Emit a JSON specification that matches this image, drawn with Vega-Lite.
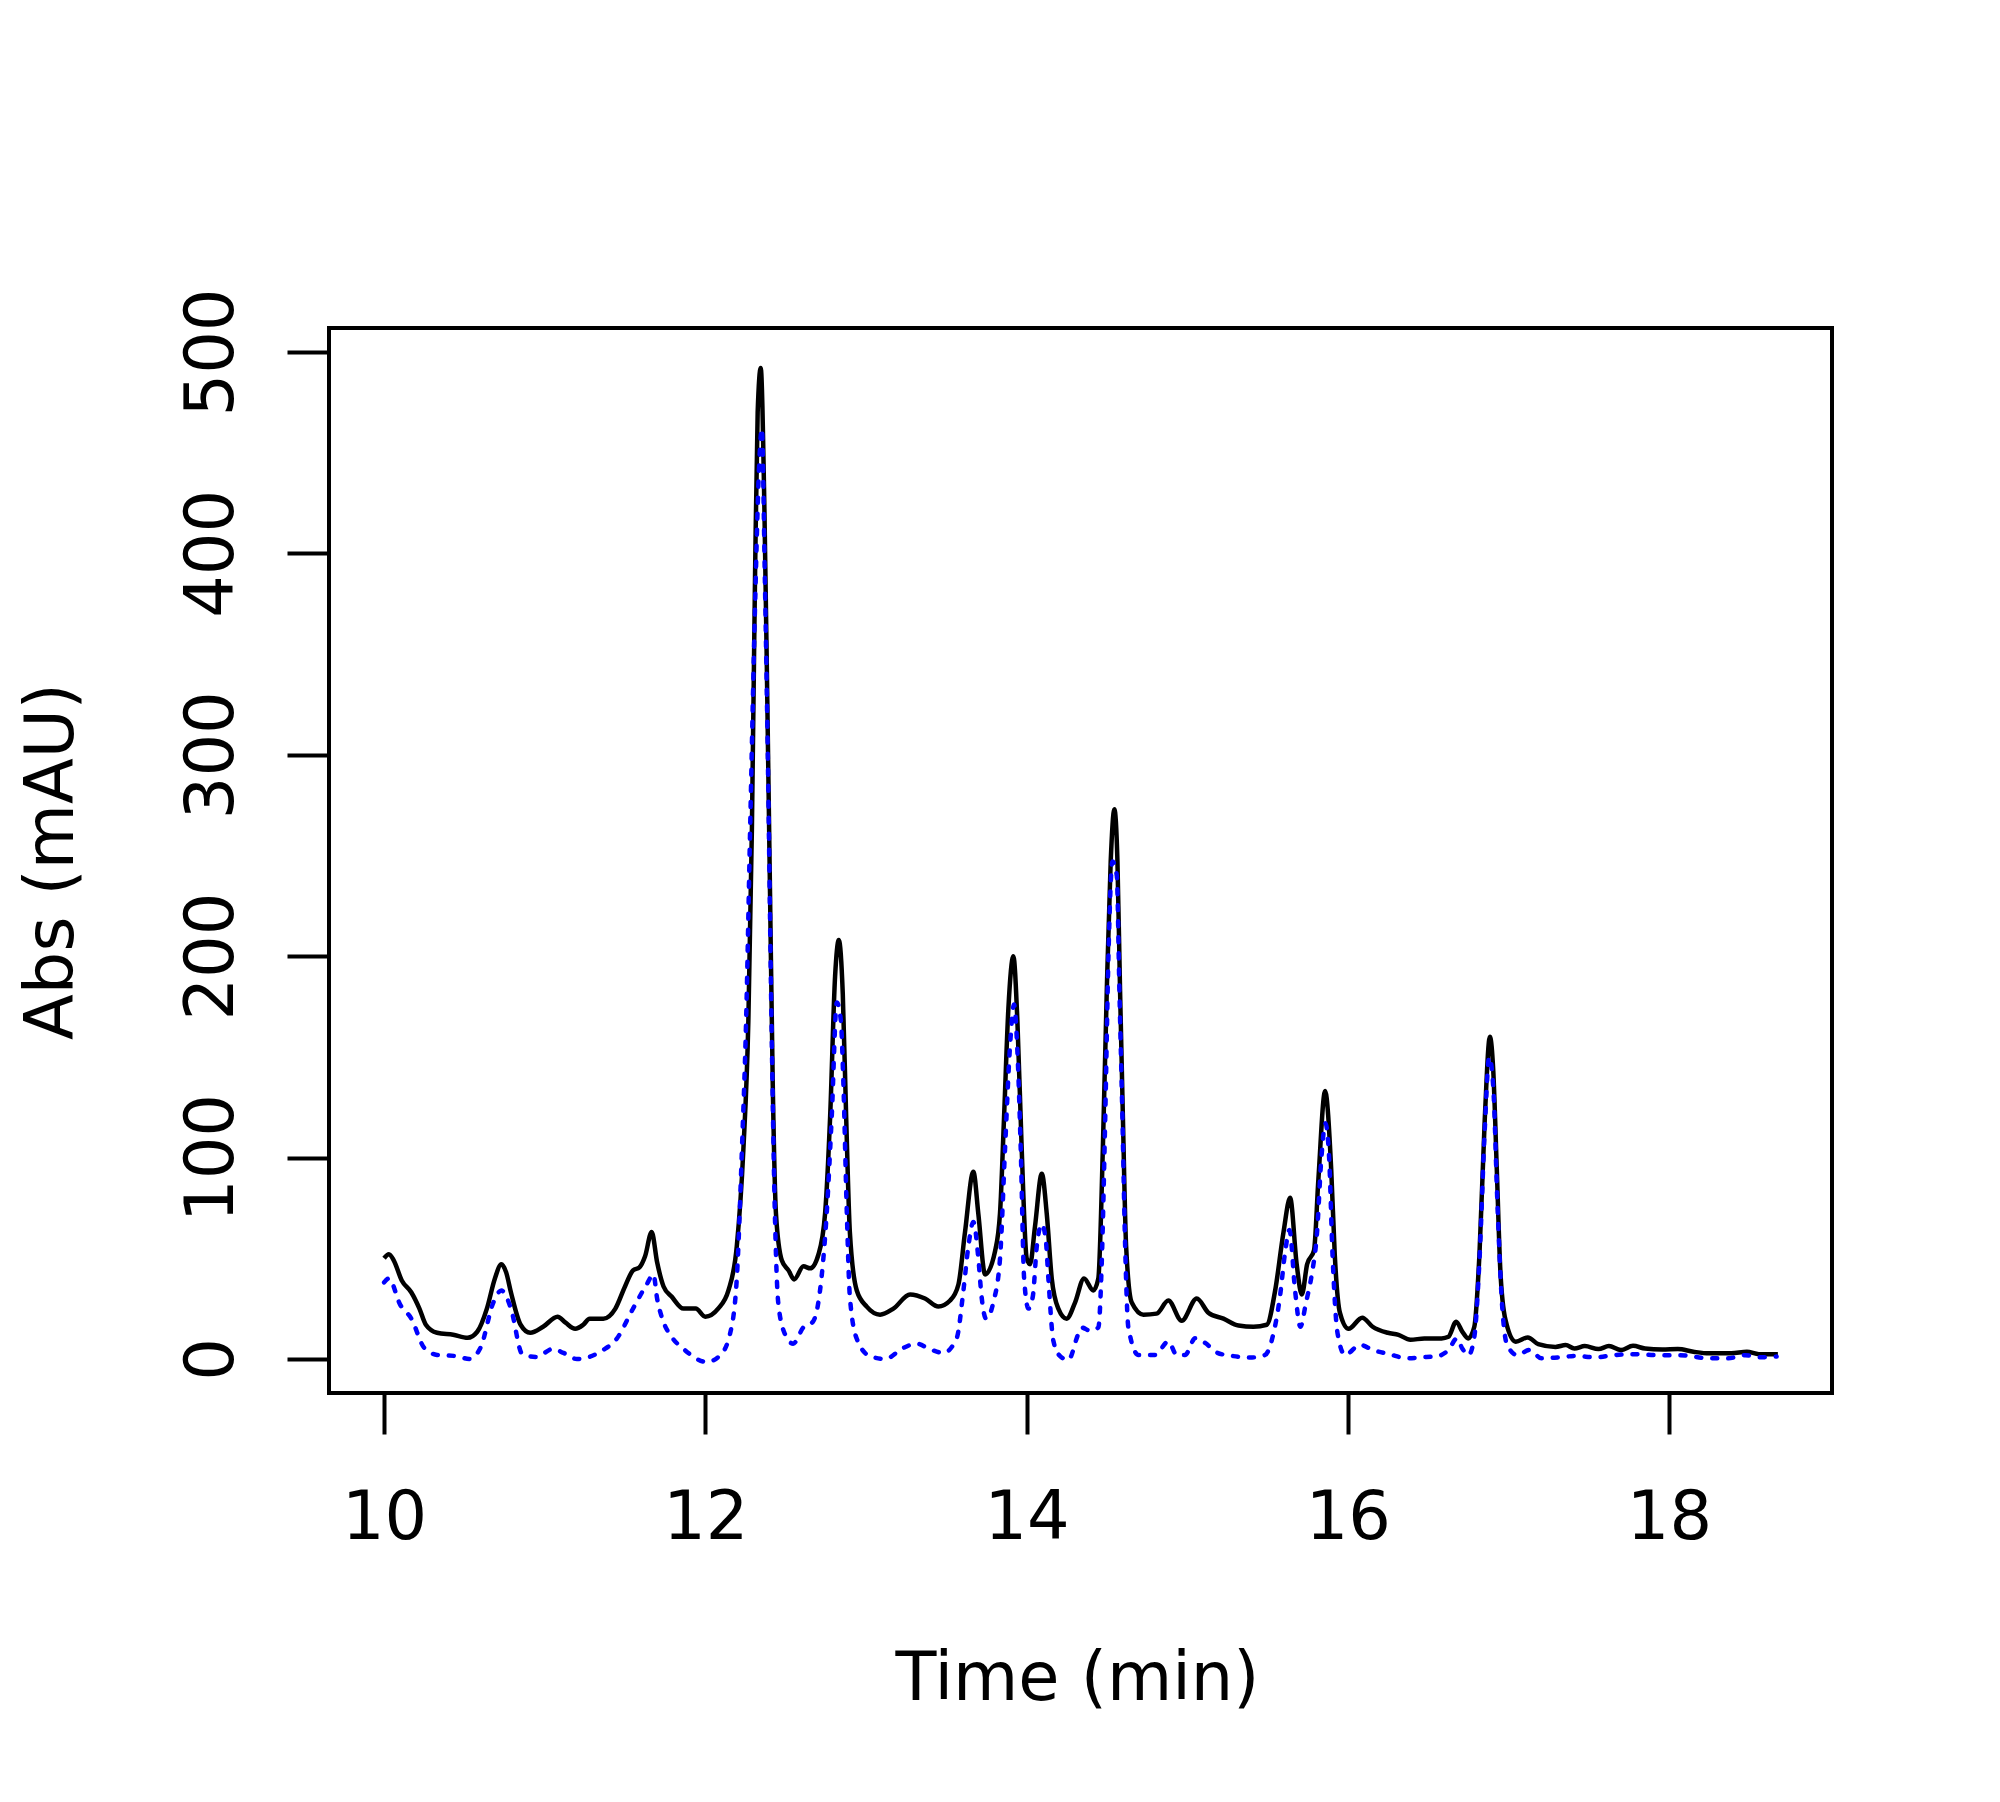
{
  "$schema": "https://vega.github.io/schema/vega-lite/v6.json",
  "width": 1503,
  "height": 1065,
  "autosize": {"type": "none"},
  "padding": {"left": 329, "top": 328, "right": 168, "bottom": 409},
  "background": "white",
  "datasets": {
    "chrom": [
      {"t": 10.0, "v": 50, "s": "A"}, {"t": 10.03, "v": 52, "s": "A"}, {"t": 10.06, "v": 49, "s": "A"},
      {"t": 10.11, "v": 39, "s": "A"}, {"t": 10.17, "v": 33, "s": "A"}, {"t": 10.22, "v": 25, "s": "A"},
      {"t": 10.26, "v": 17, "s": "A"}, {"t": 10.33, "v": 13, "s": "A"}, {"t": 10.43, "v": 12, "s": "A"},
      {"t": 10.52, "v": 10.5, "s": "A"}, {"t": 10.58, "v": 13.5, "s": "A"}, {"t": 10.64, "v": 25, "s": "A"},
      {"t": 10.69, "v": 40, "s": "A"}, {"t": 10.73, "v": 47, "s": "A"}, {"t": 10.76, "v": 43, "s": "A"},
      {"t": 10.79, "v": 33, "s": "A"}, {"t": 10.85, "v": 17, "s": "A"}, {"t": 10.91, "v": 13, "s": "A"},
      {"t": 10.99, "v": 16, "s": "A"}, {"t": 11.08, "v": 21, "s": "A"}, {"t": 11.13, "v": 18, "s": "A"},
      {"t": 11.19, "v": 15, "s": "A"}, {"t": 11.24, "v": 17, "s": "A"}, {"t": 11.28, "v": 20, "s": "A"},
      {"t": 11.365, "v": 20, "s": "A"}, {"t": 11.44, "v": 25, "s": "A"}, {"t": 11.5, "v": 36, "s": "A"},
      {"t": 11.55, "v": 44, "s": "A"}, {"t": 11.59, "v": 45.5, "s": "A"}, {"t": 11.625, "v": 51, "s": "A"},
      {"t": 11.666, "v": 63, "s": "A"}, {"t": 11.7, "v": 48, "s": "A"}, {"t": 11.74, "v": 36, "s": "A"},
      {"t": 11.79, "v": 31, "s": "A"}, {"t": 11.864, "v": 25, "s": "A"}, {"t": 11.94, "v": 25, "s": "A"},
      {"t": 12.0, "v": 21, "s": "A"}, {"t": 12.08, "v": 25, "s": "A"}, {"t": 12.144, "v": 34, "s": "A"},
      {"t": 12.196, "v": 56, "s": "A"}, {"t": 12.237, "v": 104, "s": "A"}, {"t": 12.268, "v": 168, "s": "A"},
      {"t": 12.29, "v": 263, "s": "A"}, {"t": 12.31, "v": 391, "s": "A"}, {"t": 12.326, "v": 470, "s": "A"},
      {"t": 12.345, "v": 492, "s": "A"}, {"t": 12.368, "v": 422, "s": "A"}, {"t": 12.386, "v": 327, "s": "A"},
      {"t": 12.403, "v": 231, "s": "A"}, {"t": 12.42, "v": 136, "s": "A"}, {"t": 12.44, "v": 72, "s": "A"},
      {"t": 12.476, "v": 49, "s": "A"}, {"t": 12.518, "v": 44, "s": "A"}, {"t": 12.553, "v": 39.5, "s": "A"},
      {"t": 12.611, "v": 46, "s": "A"}, {"t": 12.653, "v": 45, "s": "A"}, {"t": 12.705, "v": 52, "s": "A"},
      {"t": 12.746, "v": 72.5, "s": "A"}, {"t": 12.777, "v": 120, "s": "A"}, {"t": 12.808, "v": 190, "s": "A"},
      {"t": 12.831, "v": 208, "s": "A"}, {"t": 12.856, "v": 181, "s": "A"}, {"t": 12.877, "v": 120, "s": "A"},
      {"t": 12.9, "v": 63, "s": "A"}, {"t": 12.943, "v": 34, "s": "A"}, {"t": 13.005, "v": 26, "s": "A"},
      {"t": 13.088, "v": 22, "s": "A"}, {"t": 13.171, "v": 25, "s": "A"}, {"t": 13.275, "v": 32, "s": "A"},
      {"t": 13.368, "v": 30, "s": "A"}, {"t": 13.451, "v": 26, "s": "A"}, {"t": 13.524, "v": 29, "s": "A"},
      {"t": 13.576, "v": 37, "s": "A"}, {"t": 13.617, "v": 63, "s": "A"}, {"t": 13.669, "v": 93, "s": "A"},
      {"t": 13.7, "v": 72, "s": "A"}, {"t": 13.742, "v": 42, "s": "A"}, {"t": 13.804, "v": 53.5, "s": "A"},
      {"t": 13.835, "v": 72.5, "s": "A"}, {"t": 13.86, "v": 120, "s": "A"}, {"t": 13.887, "v": 174, "s": "A"},
      {"t": 13.918, "v": 200, "s": "A"}, {"t": 13.943, "v": 168, "s": "A"}, {"t": 13.97, "v": 104, "s": "A"},
      {"t": 14.001, "v": 50, "s": "A"}, {"t": 14.022, "v": 47, "s": "A"}, {"t": 14.053, "v": 66, "s": "A"},
      {"t": 14.095, "v": 92, "s": "A"}, {"t": 14.126, "v": 72, "s": "A"}, {"t": 14.157, "v": 40, "s": "A"},
      {"t": 14.198, "v": 25, "s": "A"}, {"t": 14.25, "v": 20, "s": "A"}, {"t": 14.302, "v": 28, "s": "A"},
      {"t": 14.358, "v": 40, "s": "A"}, {"t": 14.416, "v": 34, "s": "A"}, {"t": 14.447, "v": 40, "s": "A"},
      {"t": 14.475, "v": 104, "s": "A"}, {"t": 14.5, "v": 184, "s": "A"}, {"t": 14.524, "v": 247, "s": "A"},
      {"t": 14.547, "v": 273, "s": "A"}, {"t": 14.566, "v": 247, "s": "A"}, {"t": 14.582, "v": 184, "s": "A"},
      {"t": 14.6, "v": 120, "s": "A"}, {"t": 14.62, "v": 56, "s": "A"}, {"t": 14.655, "v": 28, "s": "A"},
      {"t": 14.728, "v": 22, "s": "A"}, {"t": 14.81, "v": 22.5, "s": "A"}, {"t": 14.883, "v": 29, "s": "A"},
      {"t": 14.966, "v": 19, "s": "A"}, {"t": 15.06, "v": 30, "s": "A"}, {"t": 15.132, "v": 23, "s": "A"},
      {"t": 15.226, "v": 20, "s": "A"}, {"t": 15.32, "v": 16.6, "s": "A"}, {"t": 15.413, "v": 16, "s": "A"},
      {"t": 15.496, "v": 17, "s": "A"}, {"t": 15.548, "v": 34, "s": "A"}, {"t": 15.6, "v": 63, "s": "A"},
      {"t": 15.641, "v": 80, "s": "A"}, {"t": 15.682, "v": 47, "s": "A"}, {"t": 15.714, "v": 32, "s": "A"},
      {"t": 15.747, "v": 47, "s": "A"}, {"t": 15.79, "v": 54, "s": "A"}, {"t": 15.817, "v": 89, "s": "A"},
      {"t": 15.859, "v": 133, "s": "A"}, {"t": 15.897, "v": 94, "s": "A"}, {"t": 15.919, "v": 52, "s": "A"},
      {"t": 15.951, "v": 23, "s": "A"}, {"t": 16.005, "v": 15, "s": "A"}, {"t": 16.09, "v": 20.5, "s": "A"},
      {"t": 16.155, "v": 16, "s": "A"}, {"t": 16.25, "v": 13, "s": "A"}, {"t": 16.316, "v": 12, "s": "A"},
      {"t": 16.39, "v": 9.5, "s": "A"}, {"t": 16.477, "v": 10.2, "s": "A"}, {"t": 16.584, "v": 10.2, "s": "A"},
      {"t": 16.627, "v": 11, "s": "A"}, {"t": 16.675, "v": 18.5, "s": "A"}, {"t": 16.713, "v": 13.6, "s": "A"},
      {"t": 16.75, "v": 10.2, "s": "A"}, {"t": 16.788, "v": 16, "s": "A"}, {"t": 16.82, "v": 52, "s": "A"},
      {"t": 16.853, "v": 119, "s": "A"}, {"t": 16.885, "v": 160, "s": "A"}, {"t": 16.906, "v": 143, "s": "A"},
      {"t": 16.928, "v": 94, "s": "A"}, {"t": 16.95, "v": 44, "s": "A"}, {"t": 16.982, "v": 19.4, "s": "A"},
      {"t": 17.046, "v": 8.6, "s": "A"}, {"t": 17.121, "v": 10.7, "s": "A"}, {"t": 17.186, "v": 7.4, "s": "A"},
      {"t": 17.293, "v": 6, "s": "A"}, {"t": 17.357, "v": 6.9, "s": "A"}, {"t": 17.411, "v": 5.2, "s": "A"},
      {"t": 17.476, "v": 6.4, "s": "A"}, {"t": 17.561, "v": 4.9, "s": "A"}, {"t": 17.626, "v": 6.4, "s": "A"},
      {"t": 17.701, "v": 4.4, "s": "A"}, {"t": 17.776, "v": 6.5, "s": "A"}, {"t": 17.851, "v": 5.2, "s": "A"},
      {"t": 17.959, "v": 4.7, "s": "A"}, {"t": 18.055, "v": 4.9, "s": "A"}, {"t": 18.152, "v": 3.6, "s": "A"},
      {"t": 18.249, "v": 2.8, "s": "A"}, {"t": 18.388, "v": 2.8, "s": "A"}, {"t": 18.485, "v": 3.6, "s": "A"},
      {"t": 18.56, "v": 2.4, "s": "A"}, {"t": 18.678, "v": 2.4, "s": "A"},

      {"t": 10.0, "v": 38, "s": "B"}, {"t": 10.03, "v": 40, "s": "B"}, {"t": 10.1, "v": 27, "s": "B"},
      {"t": 10.17, "v": 20, "s": "B"}, {"t": 10.25, "v": 5.5, "s": "B"}, {"t": 10.33, "v": 2, "s": "B"},
      {"t": 10.45, "v": 1.4, "s": "B"}, {"t": 10.53, "v": 0, "s": "B"}, {"t": 10.6, "v": 5.5, "s": "B"},
      {"t": 10.68, "v": 28, "s": "B"}, {"t": 10.73, "v": 34, "s": "B"}, {"t": 10.79, "v": 25, "s": "B"},
      {"t": 10.86, "v": 2.5, "s": "B"}, {"t": 10.95, "v": 1, "s": "B"}, {"t": 11.05, "v": 5, "s": "B"},
      {"t": 11.117, "v": 3, "s": "B"}, {"t": 11.2, "v": 0, "s": "B"}, {"t": 11.365, "v": 4.5, "s": "B"},
      {"t": 11.448, "v": 10, "s": "B"}, {"t": 11.55, "v": 25, "s": "B"}, {"t": 11.635, "v": 37, "s": "B"},
      {"t": 11.677, "v": 42, "s": "B"}, {"t": 11.7, "v": 30, "s": "B"}, {"t": 11.739, "v": 18.5, "s": "B"},
      {"t": 11.79, "v": 11, "s": "B"}, {"t": 11.864, "v": 5, "s": "B"}, {"t": 12.009, "v": -1.5, "s": "B"},
      {"t": 12.09, "v": 1.6, "s": "B"}, {"t": 12.154, "v": 12.5, "s": "B"}, {"t": 12.196, "v": 40, "s": "B"},
      {"t": 12.228, "v": 104, "s": "B"}, {"t": 12.254, "v": 168, "s": "B"}, {"t": 12.279, "v": 263, "s": "B"},
      {"t": 12.31, "v": 375, "s": "B"}, {"t": 12.337, "v": 447, "s": "B"}, {"t": 12.352, "v": 462, "s": "B"},
      {"t": 12.37, "v": 391, "s": "B"}, {"t": 12.39, "v": 295, "s": "B"}, {"t": 12.412, "v": 168, "s": "B"},
      {"t": 12.433, "v": 72.5, "s": "B"}, {"t": 12.454, "v": 28, "s": "B"}, {"t": 12.495, "v": 12.5, "s": "B"},
      {"t": 12.547, "v": 7.6, "s": "B"}, {"t": 12.61, "v": 15.6, "s": "B"}, {"t": 12.67, "v": 18.5, "s": "B"},
      {"t": 12.715, "v": 34.5, "s": "B"}, {"t": 12.756, "v": 72.5, "s": "B"}, {"t": 12.787, "v": 120, "s": "B"},
      {"t": 12.819, "v": 177, "s": "B"}, {"t": 12.844, "v": 168, "s": "B"}, {"t": 12.86, "v": 136, "s": "B"},
      {"t": 12.881, "v": 72.5, "s": "B"}, {"t": 12.9, "v": 31, "s": "B"}, {"t": 12.943, "v": 10, "s": "B"},
      {"t": 13.025, "v": 1.4, "s": "B"}, {"t": 13.12, "v": 0, "s": "B"}, {"t": 13.233, "v": 5.5, "s": "B"},
      {"t": 13.316, "v": 7.6, "s": "B"}, {"t": 13.4, "v": 4.8, "s": "B"}, {"t": 13.482, "v": 3, "s": "B"},
      {"t": 13.565, "v": 10.3, "s": "B"}, {"t": 13.607, "v": 34, "s": "B"}, {"t": 13.638, "v": 56, "s": "B"},
      {"t": 13.669, "v": 68, "s": "B"}, {"t": 13.7, "v": 50, "s": "B"}, {"t": 13.72, "v": 31, "s": "B"},
      {"t": 13.748, "v": 20, "s": "B"}, {"t": 13.793, "v": 28, "s": "B"}, {"t": 13.835, "v": 50, "s": "B"},
      {"t": 13.866, "v": 104, "s": "B"}, {"t": 13.897, "v": 155, "s": "B"}, {"t": 13.922, "v": 176, "s": "B"},
      {"t": 13.943, "v": 153, "s": "B"}, {"t": 13.964, "v": 104, "s": "B"}, {"t": 13.985, "v": 40, "s": "B"},
      {"t": 14.012, "v": 25, "s": "B"}, {"t": 14.039, "v": 31, "s": "B"}, {"t": 14.064, "v": 56, "s": "B"},
      {"t": 14.095, "v": 67, "s": "B"}, {"t": 14.12, "v": 59, "s": "B"}, {"t": 14.136, "v": 40, "s": "B"},
      {"t": 14.167, "v": 9, "s": "B"}, {"t": 14.209, "v": 1.4, "s": "B"}, {"t": 14.26, "v": -0.5, "s": "B"},
      {"t": 14.323, "v": 12.5, "s": "B"}, {"t": 14.344, "v": 15.6, "s": "B"}, {"t": 14.395, "v": 14, "s": "B"},
      {"t": 14.447, "v": 15.6, "s": "B"}, {"t": 14.468, "v": 47, "s": "B"}, {"t": 14.49, "v": 120, "s": "B"},
      {"t": 14.51, "v": 200, "s": "B"}, {"t": 14.535, "v": 247, "s": "B"}, {"t": 14.562, "v": 240, "s": "B"},
      {"t": 14.578, "v": 184, "s": "B"}, {"t": 14.597, "v": 120, "s": "B"}, {"t": 14.614, "v": 56, "s": "B"},
      {"t": 14.634, "v": 15.6, "s": "B"}, {"t": 14.697, "v": 2, "s": "B"}, {"t": 14.8, "v": 2, "s": "B"},
      {"t": 14.883, "v": 8.7, "s": "B"}, {"t": 14.935, "v": 2, "s": "B"}, {"t": 14.987, "v": 2, "s": "B"},
      {"t": 15.05, "v": 10.3, "s": "B"}, {"t": 15.112, "v": 8, "s": "B"}, {"t": 15.184, "v": 3.2, "s": "B"},
      {"t": 15.288, "v": 1.4, "s": "B"}, {"t": 15.392, "v": 0.7, "s": "B"}, {"t": 15.485, "v": 2, "s": "B"},
      {"t": 15.537, "v": 12.5, "s": "B"}, {"t": 15.578, "v": 31, "s": "B"}, {"t": 15.61, "v": 53, "s": "B"},
      {"t": 15.637, "v": 64, "s": "B"}, {"t": 15.672, "v": 34, "s": "B"}, {"t": 15.705, "v": 16, "s": "B"},
      {"t": 15.74, "v": 28, "s": "B"}, {"t": 15.776, "v": 42, "s": "B"}, {"t": 15.808, "v": 62, "s": "B"},
      {"t": 15.836, "v": 100, "s": "B"}, {"t": 15.861, "v": 117, "s": "B"}, {"t": 15.884, "v": 100, "s": "B"},
      {"t": 15.905, "v": 52, "s": "B"}, {"t": 15.937, "v": 12.5, "s": "B"}, {"t": 15.983, "v": 2, "s": "B"},
      {"t": 16.077, "v": 7, "s": "B"}, {"t": 16.155, "v": 4.5, "s": "B"}, {"t": 16.262, "v": 2.3, "s": "B"},
      {"t": 16.37, "v": 0.3, "s": "B"}, {"t": 16.455, "v": 0.8, "s": "B"}, {"t": 16.563, "v": 1.5, "s": "B"},
      {"t": 16.627, "v": 4.5, "s": "B"}, {"t": 16.68, "v": 10.2, "s": "B"}, {"t": 16.713, "v": 5.2, "s": "B"},
      {"t": 16.752, "v": 1.9, "s": "B"}, {"t": 16.788, "v": 11, "s": "B"}, {"t": 16.82, "v": 49, "s": "B"},
      {"t": 16.853, "v": 114, "s": "B"}, {"t": 16.881, "v": 150, "s": "B"}, {"t": 16.906, "v": 135, "s": "B"},
      {"t": 16.932, "v": 77, "s": "B"}, {"t": 16.96, "v": 28, "s": "B"}, {"t": 16.992, "v": 7, "s": "B"},
      {"t": 17.056, "v": 1.9, "s": "B"}, {"t": 17.132, "v": 4.5, "s": "B"}, {"t": 17.207, "v": 0.3, "s": "B"},
      {"t": 17.315, "v": 0.8, "s": "B"}, {"t": 17.422, "v": 1.5, "s": "B"}, {"t": 17.54, "v": 0.8, "s": "B"},
      {"t": 17.658, "v": 1.9, "s": "B"}, {"t": 17.765, "v": 2.4, "s": "B"}, {"t": 17.937, "v": 1.9, "s": "B"},
      {"t": 18.066, "v": 1.9, "s": "B"}, {"t": 18.26, "v": 0.3, "s": "B"}, {"t": 18.366, "v": 0.3, "s": "B"},
      {"t": 18.474, "v": 1.9, "s": "B"}, {"t": 18.581, "v": 0.8, "s": "B"}, {"t": 18.67, "v": 1.2, "s": "B"}
    ]
  },
  "data": {"name": "chrom"},
  "encoding": {
    "x": {
      "field": "t",
      "type": "quantitative",
      "scale": {"domain": [9.657, 19.015], "nice": false, "zero": false},
      "axis": {
        "values": [10, 12, 14, 16, 18],
        "title": "Time (min)",
        "domain": false,
        "grid": false,
        "tickSize": 41,
        "tickWidth": 4,
        "tickColor": "black",
        "labelFont": "DejaVu Sans",
        "labelFontSize": 67,
        "labelColor": "black",
        "labelPadding": 104,
        "labelBaseline": "alphabetic",
        "labelFlush": false,
        "labelOverlap": false,
        "titleFont": "DejaVu Sans",
        "titleFontSize": 67,
        "titleFontWeight": "normal",
        "titleColor": "black",
        "titleX": 748,
        "titleY": 306,
        "titleAlign": "center",
        "titleBaseline": "alphabetic"
      }
    },
    "y": {
      "field": "v",
      "type": "quantitative",
      "scale": {"domain": [-16.9, 511.9], "nice": false, "zero": false},
      "axis": {
        "values": [0, 100, 200, 300, 400, 500],
        "title": "Abs (mAU)",
        "domain": false,
        "grid": false,
        "tickSize": 42,
        "tickWidth": 4,
        "tickColor": "black",
        "labelFont": "DejaVu Sans",
        "labelFontSize": 67,
        "labelColor": "black",
        "labelAngle": 270,
        "labelAlign": "center",
        "labelBaseline": "alphabetic",
        "labelPadding": 55,
        "labelFlush": false,
        "labelOverlap": false,
        "titleFont": "DejaVu Sans",
        "titleFontSize": 67,
        "titleFontWeight": "normal",
        "titleColor": "black",
        "titleAngle": 270,
        "titleX": -257,
        "titleY": 533,
        "titleAlign": "center",
        "titleBaseline": "alphabetic"
      }
    }
  },
  "layer": [
    {
      "transform": [{"filter": "datum.s == 'A'"}],
      "mark": {"type": "line", "color": "black", "strokeWidth": 4.5, "strokeJoin": "round", "interpolate": "monotone"}
    },
    {
      "transform": [{"filter": "datum.s == 'B'"}],
      "mark": {
        "type": "line",
        "color": "#0000ff",
        "strokeWidth": 4.5,
        "strokeDash": [5, 11],
        "strokeCap": "round",
        "interpolate": "monotone"
      }
    }
  ],
  "config": {
    "font": "DejaVu Sans",
    "view": {"stroke": "black", "strokeWidth": 4}
  }
}
